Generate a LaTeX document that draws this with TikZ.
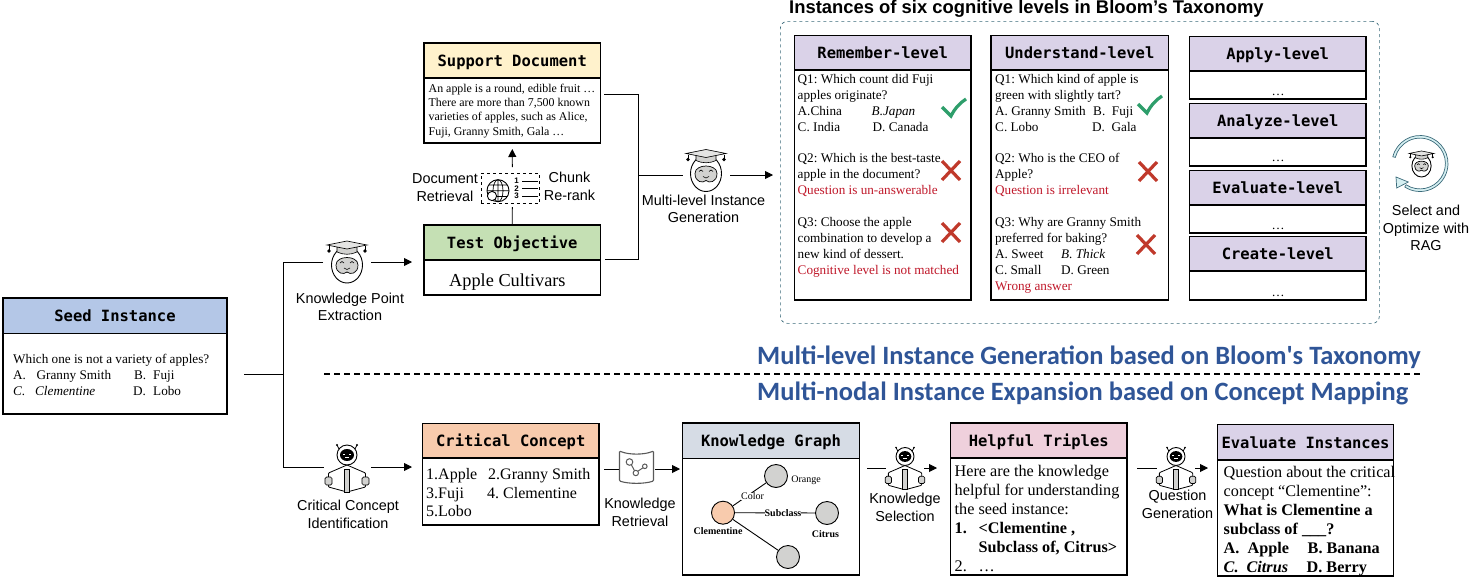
\documentclass[tikz,border=0pt]{standalone}
\usepackage{fontspec}
\setmainfont{Liberation Serif}
\setsansfont{Liberation Sans}
\setmonofont{DejaVu Sans Mono}
\newfontfamily\bluefont{Carlito}
\usetikzlibrary{arrows.meta}
\definecolor{headyellow}{HTML}{FFF2CC}
\definecolor{headgreen}{HTML}{C5E0B4}
\definecolor{headblue}{HTML}{B4C7E7}
\definecolor{headlilac}{HTML}{DAD2E8}
\definecolor{headorange}{HTML}{F8CBAD}
\definecolor{headslate}{HTML}{D6DCE5}
\definecolor{headpink}{HTML}{EFD0DC}
\definecolor{errred}{HTML}{C0182A}
\definecolor{crossred}{HTML}{C0392B}
\definecolor{tickgreen}{HTML}{2E9E6B}
\definecolor{titleblue}{HTML}{2F5597}
\definecolor{panelteal}{HTML}{3B6A7A}
\definecolor{ringfill}{HTML}{D6F0F2}
\definecolor{facegray}{HTML}{D2D2D0}
\tikzset{
  head/.style={draw,line width=1.2pt,anchor=north west,inner sep=0,outer sep=0,text height=12pt,text depth=0pt,font=\ttfamily\bfseries\fontsize{15.5}{18}\selectfont},
  body/.style={draw,line width=1.2pt,anchor=north west,inner sep=0,outer sep=0,fill=white},
  arr/.style={-{Triangle[length=8pt,width=8pt]}},
  link/.style={line width=.9pt},
  lbl/.style={inner sep=0,align=center,font=\sffamily\fontsize{14.4}{17.6}\selectfont},
  qtxt/.style={anchor=north west,inner sep=0,align=left,font=\fontsize{13.2}{16}\selectfont},
  stxt/.style={anchor=north west,inner sep=0,align=left,font=\fontsize{13.2}{16}\selectfont},
  ltxt/.style={anchor=north west,inner sep=0,align=left,font=\fontsize{16.2}{19}\selectfont},
  dots/.style={inner sep=0,font=\fontsize{13}{14}\selectfont},
  spot/.style={minimum width=#1,minimum height=36pt,inner sep=0,outer sep=0},
  circ/.style={circle,draw,line width=.9pt,minimum size=23pt,inner sep=0,fill=facegray},
  gtxt/.style={inner sep=0,font=\fontsize{10}{12}\selectfont},
  pics/scholar/.style={code={
    \draw[line width=.9pt,fill=white] (0,3) ellipse (15.5 and 18);
    \draw[line width=.7pt,fill=facegray] (-11,3) .. controls (-11,-7) and (11,-7) .. (11,3) .. controls (11,12) and (3,13) .. (0,10) .. controls (-3,13) and (-11,12) .. (-11,3) -- cycle;
    \draw[line width=.6pt] (-7,1) .. controls (-6,-1) and (-4,-1) .. (-3,1) (3,1) .. controls (4,-1) and (6,-1) .. (7,1) (-3,6) .. controls (-1,8) and (1,8) .. (3,6);
    \draw[line width=.6pt] (-18,-16) -- (-18,-11) (18,-16) -- (18,-11);
    \fill (-18,-11) circle (1.9) (18,-11) circle (1.9);
    \draw[line width=.6pt,fill=facegray] (-10,-15) -- (-10,-10) .. controls (-4,-7) and (4,-7) .. (10,-10) -- (10,-15) -- cycle;
    \draw[line width=.6pt,fill=facegray!60] (-20,-17) -- (0,-21) -- (20,-17) -- (0,-13) -- cycle;
  }},
  pics/reader/.style={code={
    \draw[line width=.8pt] (-8,-21) -- (-10,-25) (8,-21) -- (10,-25);
    \fill (-10,-25) circle (1.1) (10,-25) circle (1.1);
    \draw[line width=.9pt,fill=white] (0,-15) circle (10);
    \fill (0,-15) ellipse (7 and 6);
    \draw[white,line width=.6pt] (-4,-16) -- (-2,-16) (2,-16) -- (4,-16) (-2,-12.5) -- (2,-12.5);
    \draw[line width=.8pt,fill=white,rounded corners=.8pt] (0,-5) -- (-18.5,3) -- (-18.5,17) -- (0,22) -- (18.5,17) -- (18.5,3) -- cycle;
    \draw[line width=.7pt,fill=facegray] (-2.5,-1) -- (2.5,-1) -- (2.5,22) -- (-2.5,22) -- cycle;
    \draw[line width=.7pt,fill=facegray,rounded corners=1.5pt] (-22,7) rectangle (-15,15);
    \draw[line width=.7pt,fill=facegray,rounded corners=1.5pt] (15,7) rectangle (22,15);
  }},
  pics/graphdoc/.style={code={
    \draw[line width=1.1pt,black!65,rounded corners=1pt] (-17,-16) .. controls (-8,-12) and (8,-12) .. (17,-16) -- (17,14) .. controls (8,17) and (-8,17) .. (-17,14) -- cycle;
    \draw[line width=1pt,black!65] (-7,-5) circle (3.3) (-.7,6) circle (2.7) (8.3,-.7) circle (2.3);
    \draw[line width=1pt,black!65] (-5.2,-2.3) -- (-2,3.6) (1.3,4.2) -- (6.5,.8);
  }},
  pics/tick/.style={code={
    \draw[tickgreen,line width=3.2pt] (0,8) -- (9,17) .. controls (13,9) and (18,4) .. (24,0);
  }},
  pics/wrong/.style={code={
    \draw[crossred,line width=3.2pt] (0,0) -- (18,19) (18,0) -- (0,19);
  }},
}
\begin{document}
\frenchspacing
\begin{tikzpicture}[x=1pt,y=-1pt]
\useasboundingbox (0,0) rectangle (1470,581);
% seed
\node[head,fill=headblue,minimum width=224pt,minimum height=35.5pt] (seedhead) at (3,298) {Seed Instance};
\node[body,minimum width=224pt,minimum height=80.5pt] (seedbody) at (3,333.5) {};
\node[stxt] (seedq) at (13,354) {Which one is not a variety of apples?\\
\makebox[23.5pt][l]{A.}\makebox[97.5pt][l]{Granny Smith}\makebox[19pt][l]{B.}Fuji\\
\textit{\makebox[22pt][l]{C.}\makebox[98pt][l]{Clementine}}\makebox[20pt][l]{D.}Lobo};
% top branch
\node[head,fill=headyellow,minimum width=176.5pt,minimum height=35pt] (dochead) at (424,43) {Support Document};
\node[body,minimum width=176.5pt,minimum height=65pt] (docbody) at (424,78) {};
\node[inner sep=0,anchor=north west,align=left,font=\fontsize{11.9}{14.2}\selectfont] (doctxt) at (428.5,84) {An apple is a round, edible fruit …\\
There are more than 7,500 known\\
varieties of apples, such as Alice,\\
Fuji, Granny Smith, Gala …};
\node[head,fill=headgreen,minimum width=176.5pt,minimum height=35pt] (testhead) at (424,225) {Test Objective};
\node[body,minimum width=176.5pt,minimum height=35pt] (testbody) at (424,260) {};
\node[inner sep=0,anchor=west,font=\fontsize{18.3}{20}\selectfont] (testtxt) at (449,282) {Apple Cultivars};
\node[draw,dashed,line width=.8pt,anchor=north west,minimum width=58.5pt,minimum height=30pt,inner sep=0] (iconbox) at (480.5,173) {};
\draw[line width=.9pt] (498,190.7) circle (11);
\draw[line width=.7pt] (498,190.7) ellipse (5 and 11) (487,190.7) -- (509,190.7) (488.5,185) -- (507.5,185) (488.5,196.5) -- (507.5,196.5) (498,179.7) -- (498,201.7);
\draw[line width=.9pt,fill=white] (492,196) circle (4.6);
\node[inner sep=0,font=\sffamily\bfseries\fontsize{8}{8}\selectfont] (rank1) at (516.5,181) {1};
\node[inner sep=0,font=\sffamily\bfseries\fontsize{8}{8}\selectfont] (rank2) at (516.5,188.7) {2};
\node[inner sep=0,font=\sffamily\bfseries\fontsize{8}{8}\selectfont] (rank3) at (516.5,196) {3};
\draw[line width=1pt] (522,181) -- (537.5,181) (522,188.7) -- (537.5,188.7) (522,196) -- (537.5,196);
\node[lbl] (docretr) at (445,187.5) {Document\\Retrieval};
\node[lbl] (chunk) at (569.5,186.5) {Chunk\\Re-rank};
\node[spot=48pt] (kpe) at (347,262) {};
\pic at (347,262) {scholar};
\node[lbl] (kpelbl) at (350,307) {Knowledge Point\\Extraction};
\node[spot=47pt] (mlig) at (706.5,175) {};
\pic at (706,170.5) {scholar};
\node[lbl] (mliglbl) at (703.5,209) {Multi-level Instance\\Generation};
% panel of levels
\node[draw=panelteal,dashed,line width=.7pt,rounded corners=7pt,anchor=north west,minimum width=599pt,minimum height=302pt,inner sep=0] (panel) at (780,21) {};
\node[anchor=west,inner sep=0,font=\sffamily\bfseries\fontsize{18.4}{20}\selectfont] (paneltitle) at (789,8.5) {Instances of six cognitive levels in Bloom's Taxonomy};
\node[head,fill=headlilac,minimum width=176.5pt,minimum height=34.5pt] (remhead) at (794.5,35.5) {Remember-level};
\node[body,minimum width=176.5pt,minimum height=230pt] (rembody) at (794.5,70) {};
\node[qtxt] (remq1) at (797.5,74) {Q1: Which count did Fuji\\apples originate?\\\makebox[74pt][l]{A.China}\textit{B.Japan}\\\makebox[75pt][l]{C. India}D. Canada};
\node[qtxt] (remq2) at (797.5,153) {Q2: Which is the best-taste\\apple in the document?\\\textcolor{errred}{Question is un-answerable}};
\node[qtxt] (remq3) at (797.5,217) {Q3: Choose the apple\\combination to develop a\\new kind of dessert.\\\textcolor{errred}{Cognitive level is not matched}};
\pic at (942,99) {tick};
\pic at (942,161) {wrong};
\pic at (942,223) {wrong};
\node[head,fill=headlilac,minimum width=177.5pt,minimum height=34.5pt] (undhead) at (991,35.5) {Understand-level};
\node[body,minimum width=177.5pt,minimum height=230pt] (undbody) at (991,70) {};
\node[qtxt] (undq1) at (995,74) {Q1: Which kind of apple is\\green with slightly tart?\\\makebox[98pt][l]{A. Granny Smith}B.\ \ Fuji\\\makebox[97pt][l]{C. Lobo}D.\ \ Gala};
\node[qtxt] (undq2) at (995,153) {Q2: Who is the CEO of\\Apple?\\\textcolor{errred}{Question is irrelevant}};
\node[qtxt] (undq3) at (995,217) {Q3: Why are Granny Smith\\preferred for baking?\\\makebox[66pt][l]{A. Sweet}\textit{B. Thick}\\\makebox[66pt][l]{C. Small}D. Green\\\textcolor{errred}{Wrong answer}};
\pic at (1138,96) {tick};
\pic at (1139,162) {wrong};
\pic at (1137,235) {wrong};
\node[head,fill=headlilac,minimum width=176.5pt,minimum height=34.5pt] (apphead) at (1189.5,36.5) {Apply-level};
\node[body,minimum width=176.5pt,minimum height=28pt] (appbody) at (1189.5,71) {};
\node[dots] (appdots) at (1278,95) {…};
\node[head,fill=headlilac,minimum width=176.5pt,minimum height=34.5pt] (anahead) at (1189.5,103.5) {Analyze-level};
\node[body,minimum width=176.5pt,minimum height=28pt] (anabody) at (1189.5,138) {};
\node[dots] (anadots) at (1278,161) {…};
\node[head,fill=headlilac,minimum width=176.5pt,minimum height=34.5pt] (evahead) at (1189.5,170.5) {Evaluate-level};
\node[body,minimum width=176.5pt,minimum height=28pt] (evabody) at (1189.5,205) {};
\node[dots] (evadots) at (1278,229) {…};
\node[head,fill=headlilac,minimum width=176.5pt,minimum height=34.5pt] (crehead) at (1189.5,236.5) {Create-level};
\node[body,minimum width=176.5pt,minimum height=29pt] (crebody) at (1189.5,271) {};
\node[dots] (credots) at (1278,296) {…};
% select loop
\draw[panelteal,line width=.7pt,fill=ringfill] (1420,163.5) ++(194:28) arc (194:483:28) -- ++(483:-2.6) arc (483:194:25.4) -- cycle;
\draw[panelteal,line width=.7pt,fill=ringfill] (1396,177) -- (1396.7,188) -- (1408.3,182) -- cycle;
\pic[scale=.62] at (1421.5,164) {scholar};
\node[lbl] (selbl) at (1426,228) {Select and\\Optimize with\\RAG};
% divider
\coordinate (sepleft) at (324,374);
\coordinate (sepright) at (1420,374);
\draw[line width=2pt,dash pattern=on 6pt off 4pt] (sepleft) -- (sepright);
\node[inner sep=0,anchor=west,text=titleblue,font=\bluefont\bfseries\fontsize{26.45}{28}\selectfont] (toptitle) at (757,357) {Multi-level Instance Generation based on Bloom\textquotesingle s Taxonomy};
\node[inner sep=0,anchor=west,text=titleblue,font=\bluefont\bfseries\fontsize{26.45}{28}\selectfont] (bottitle) at (757,393) {Multi-nodal Instance Expansion based on Concept Mapping};
% bottom branch
\node[spot=47pt] (cci) at (347.5,467) {};
\pic at (347,470) {reader};
\node[lbl] (ccilbl) at (348,514.5) {Critical Concept\\Identification};
\node[head,fill=headorange,minimum width=176.5pt,minimum height=34.7pt] (crithead) at (422.5,423.3) {Critical Concept};
\node[body,minimum width=176.5pt,minimum height=67pt] (critbody) at (422.5,458) {};
\node[ltxt,font=\fontsize{16}{18.8}\selectfont] (crittxt) at (426,468) {\makebox[62pt][l]{1.Apple}2.Granny Smith\\\makebox[61pt][l]{3.Fuji}4. Clementine\\5.Lobo};
\node[spot=36pt] (krdoc) at (637,469) {};
\pic at (636.5,467) {graphdoc};
\node[lbl] (krlbl) at (640,512.5) {Knowledge\\Retrieval};
\node[head,fill=headslate,minimum width=176.5pt,minimum height=35.5pt] (kghead) at (682.8,423) {Knowledge Graph};
\node[body,minimum width=176.5pt,minimum height=116.5pt] (kgbody) at (682.8,458.5) {};
\node[circ,fill=headorange] (clem) at (723,512.7) {};
\node[circ] (orange) at (776,476) {};
\node[circ] (citrus) at (827,513) {};
\node[circ] (blank) at (788,557) {};
\draw[line width=.9pt] (clem) -- node[gtxt,fill=white,pos=.5,xshift=3pt,yshift=-2pt] {Color} (orange);
\draw[line width=.9pt] (clem) -- node[gtxt,fill=white,pos=.6,font=\bfseries\fontsize{10}{12}\selectfont] {Subclass} (citrus);
\draw[line width=.9pt] (clem) -- (blank);
\node[gtxt] (orangelbl) at (806,480) {Orange};
\node[gtxt,font=\bfseries\fontsize{10}{12}\selectfont] (clemlbl) at (718,531) {Clementine};
\node[gtxt,font=\bfseries\fontsize{10}{12}\selectfont] (citruslbl) at (825.5,534) {Citrus};
\node[spot=38pt] (ksel) at (905,468) {};
\pic[scale=.9] at (905,470) {reader};
\node[lbl] (ksellbl) at (905,507.5) {Knowledge\\Selection};
\node[head,fill=headpink,minimum width=176.5pt,minimum height=35pt] (helphead) at (950.5,423) {Helpful Triples};
\node[body,minimum width=176.5pt,minimum height=117pt] (helpbody) at (950.5,458) {};
\node[ltxt] (helptxt) at (954.5,465) {Here are the knowledge\\helpful for understanding\\the seed instance:\\\textbf{\makebox[24pt][l]{1.}<Clementine ,}\\\textbf{\makebox[24pt][l]{}Subclass of, Citrus>}\\\makebox[24pt][l]{2.}…};
\node[spot=38pt] (qgen) at (1176,468) {};
\pic[scale=.9] at (1176,470) {reader};
\node[lbl] (qgenlbl) at (1177.5,504.5) {Question\\Generation};
\node[head,fill=headlilac,minimum width=176pt,minimum height=35.5pt] (evalhead) at (1217.5,424.5) {Evaluate Instances};
\node[body,minimum width=176pt,minimum height=116pt] (evalbody) at (1217.5,460) {};
\node[ltxt] (evaltxt) at (1223.5,466) {Question about the critical\\concept “Clementine”:\\\textbf{What is Clementine a}\\\textbf{subclass of \_\_\_?}\\\textbf{\makebox[84pt][l]{A.\ \ Apple}B. Banana}\\\textbf{\makebox[83pt][l]{\textit{C.\ \ Citrus}}D. Berry}};
% connectors
\coordinate (seedout) at (244,374);
\coordinate (split) at (283,374);
\coordinate (splittop) at (283,262);
\coordinate (splitbot) at (283,467);
\coordinate (kpeout) at (412,262);
\coordinate (cciout) at (412,467);
\coordinate (docout) at (604,94);
\coordinate (testout) at (605,259);
\coordinate (joinup) at (638,94);
\coordinate (joindown) at (638,259);
\coordinate (joinmid) at (638,175);
\coordinate (mligout) at (773,175);
\coordinate (krin) at (604,469);
\coordinate (krout) at (680,469);
\coordinate (kselin) at (867,468);
\coordinate (kselout) at (937,468);
\coordinate (qgenin) at (1137,468);
\coordinate (qgenout) at (1208,468);
\coordinate (rankup) at (512.3,167);
\coordinate (rankdown) at (512.3,207);
\draw[link] (seedout) -- (split);
\draw[link] (kpe) -- (splittop) -- (splitbot) -- (cci);
\draw[link,arr] (kpe) -- (kpeout);
\draw[link,arr] (cci) -- (cciout);
\draw[link] (testhead.north) -- (rankdown);
\draw[link,arr,shorten >=6pt] (rankup) -- (docbody.south);
\draw[link] (docout) -- (joinup) -- (joindown) -- (testout);
\draw[link] (joinmid) -- (mlig);
\draw[link,arr] (mlig) -- (mligout);
\draw[link] (krin) -- (krdoc);
\draw[link,arr] (krdoc) -- (krout);
\draw[link] (kselin) -- (ksel);
\draw[link,arr] (ksel) -- (kselout);
\draw[link] (qgenin) -- (qgen);
\draw[link,arr] (qgen) -- (qgenout);
\end{tikzpicture}
\end{document}
